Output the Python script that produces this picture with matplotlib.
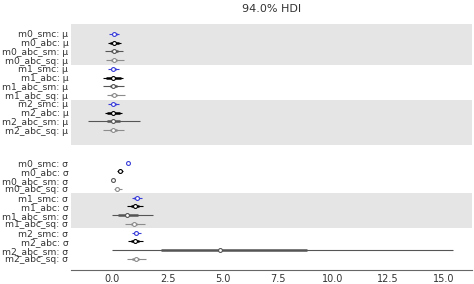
import numpy as np
import matplotlib.pyplot as plt

models = ['m0_smc', 'm0_abc', 'm0_abc_sm', 'm0_abc_sq',
          'm1_smc', 'm1_abc', 'm1_abc_sm', 'm1_abc_sq',
          'm2_smc', 'm2_abc', 'm2_abc_sm', 'm2_abc_sq']

# mu: median, hdi low, hdi high, iqr low, iqr high
mu_med = [0.09, 0.09, 0.08, 0.08, 0.05, 0.05, 0.04, 0.06, 0.05, 0.05, 0.05, 0.05]
mu_lo = [-0.14, -0.18, -0.33, -0.29, -0.18, -0.41, -0.42, -0.25, -0.21, -0.33, -1.09, -0.41]
mu_hi = [0.32, 0.38, 0.50, 0.53, 0.32, 0.50, 0.53, 0.57, 0.30, 0.42, 1.25, 0.53]
mu_q1 = [-0.02, -0.12, -0.08, -0.06, -0.05, -0.30, -0.12, -0.08, -0.06, -0.25, -0.25, -0.12]
mu_q3 = [0.20, 0.30, 0.24, 0.22, 0.16, 0.40, 0.22, 0.20, 0.16, 0.35, 0.35, 0.22]

sd_med = [0.73, 0.35, 0.05, 0.20, 1.10, 1.03, 0.65, 0.98, 1.07, 1.03, 4.88, 1.07]
sd_lo = [0.68, 0.20, 0.02, 0.09, 0.88, 0.68, -0.03, 0.58, 0.88, 0.72, 0.00, 0.65]
sd_hi = [0.78, 0.50, 0.09, 0.43, 1.33, 1.38, 1.86, 1.48, 1.29, 1.38, 15.45, 1.53]
sd_q1 = [0.71, 0.27, 0.04, 0.15, 1.00, 0.85, 0.27, 0.85, 0.98, 0.85, 2.19, 0.90]
sd_q3 = [0.75, 0.42, 0.07, 0.26, 1.20, 1.20, 1.18, 1.12, 1.17, 1.20, 8.80, 1.22]

colors = {'smc': '#3b3fd9', 'abc': 'black', 'abc_sm': '#555555', 'abc_sq': '#8c8c8c'}

fig, ax = plt.subplots(figsize=(4.74, 2.84), dpi=100)
fig.subplots_adjust(left=0.15, right=0.996, top=0.944, bottom=0.049)

gap = 14.7
labels, ypos = [], []


def draw(i, y, med, lo, hi, q1, q3):
    key = models[i].split('_', 1)[1]
    c = colors[key]
    ax.plot([lo, hi], [y, y], color=c, lw=0.8, solid_capstyle='butt')
    ax.plot([q1, q3], [y, y], color=c, lw=1.8, solid_capstyle='butt')
    ax.plot(med, y, 'o', ms=2.8, mfc='white', mec=c, mew=0.8)


for i in range(12):
    draw(i, i, mu_med[i], mu_lo[i], mu_hi[i], mu_q1[i], mu_q3[i])
    labels.append(models[i] + ': μ')
    ypos.append(i)
for i in range(12):
    y = gap + i
    draw(i, y, sd_med[i], sd_lo[i], sd_hi[i], sd_q1[i], sd_q3[i])
    labels.append(models[i] + ': σ')
    ypos.append(y)

# alternating bands
band = '#e5e5e5'
ax.axhspan(-1.14, 3.5, color=band, zorder=0, lw=0)
ax.axhspan(7.5, 12.69, color=band, zorder=0, lw=0)
ax.axhspan(gap + 3.5, gap + 7.5, color=band, zorder=0, lw=0)

ax.set_yticks(ypos)
ax.set_yticklabels(labels)
ax.set_ylim(26.97, -2.06)
ax.set_xlim(-1.87, 16.3)
ax.set_xticks([0, 2.5, 5, 7.5, 10, 12.5, 15])
ax.tick_params(axis='x', length=0, labelsize=7, colors='#333333', pad=3)
ax.tick_params(axis='y', length=0, labelsize=6.6, colors='#333333', pad=2)
for s in ['top', 'right', 'left']:
    ax.spines[s].set_visible(False)
ax.spines['bottom'].set_color('#666666')
ax.set_title('94.0% HDI', fontsize=8, color='#333333', pad=3)

fig.savefig('out.png', dpi=100)
